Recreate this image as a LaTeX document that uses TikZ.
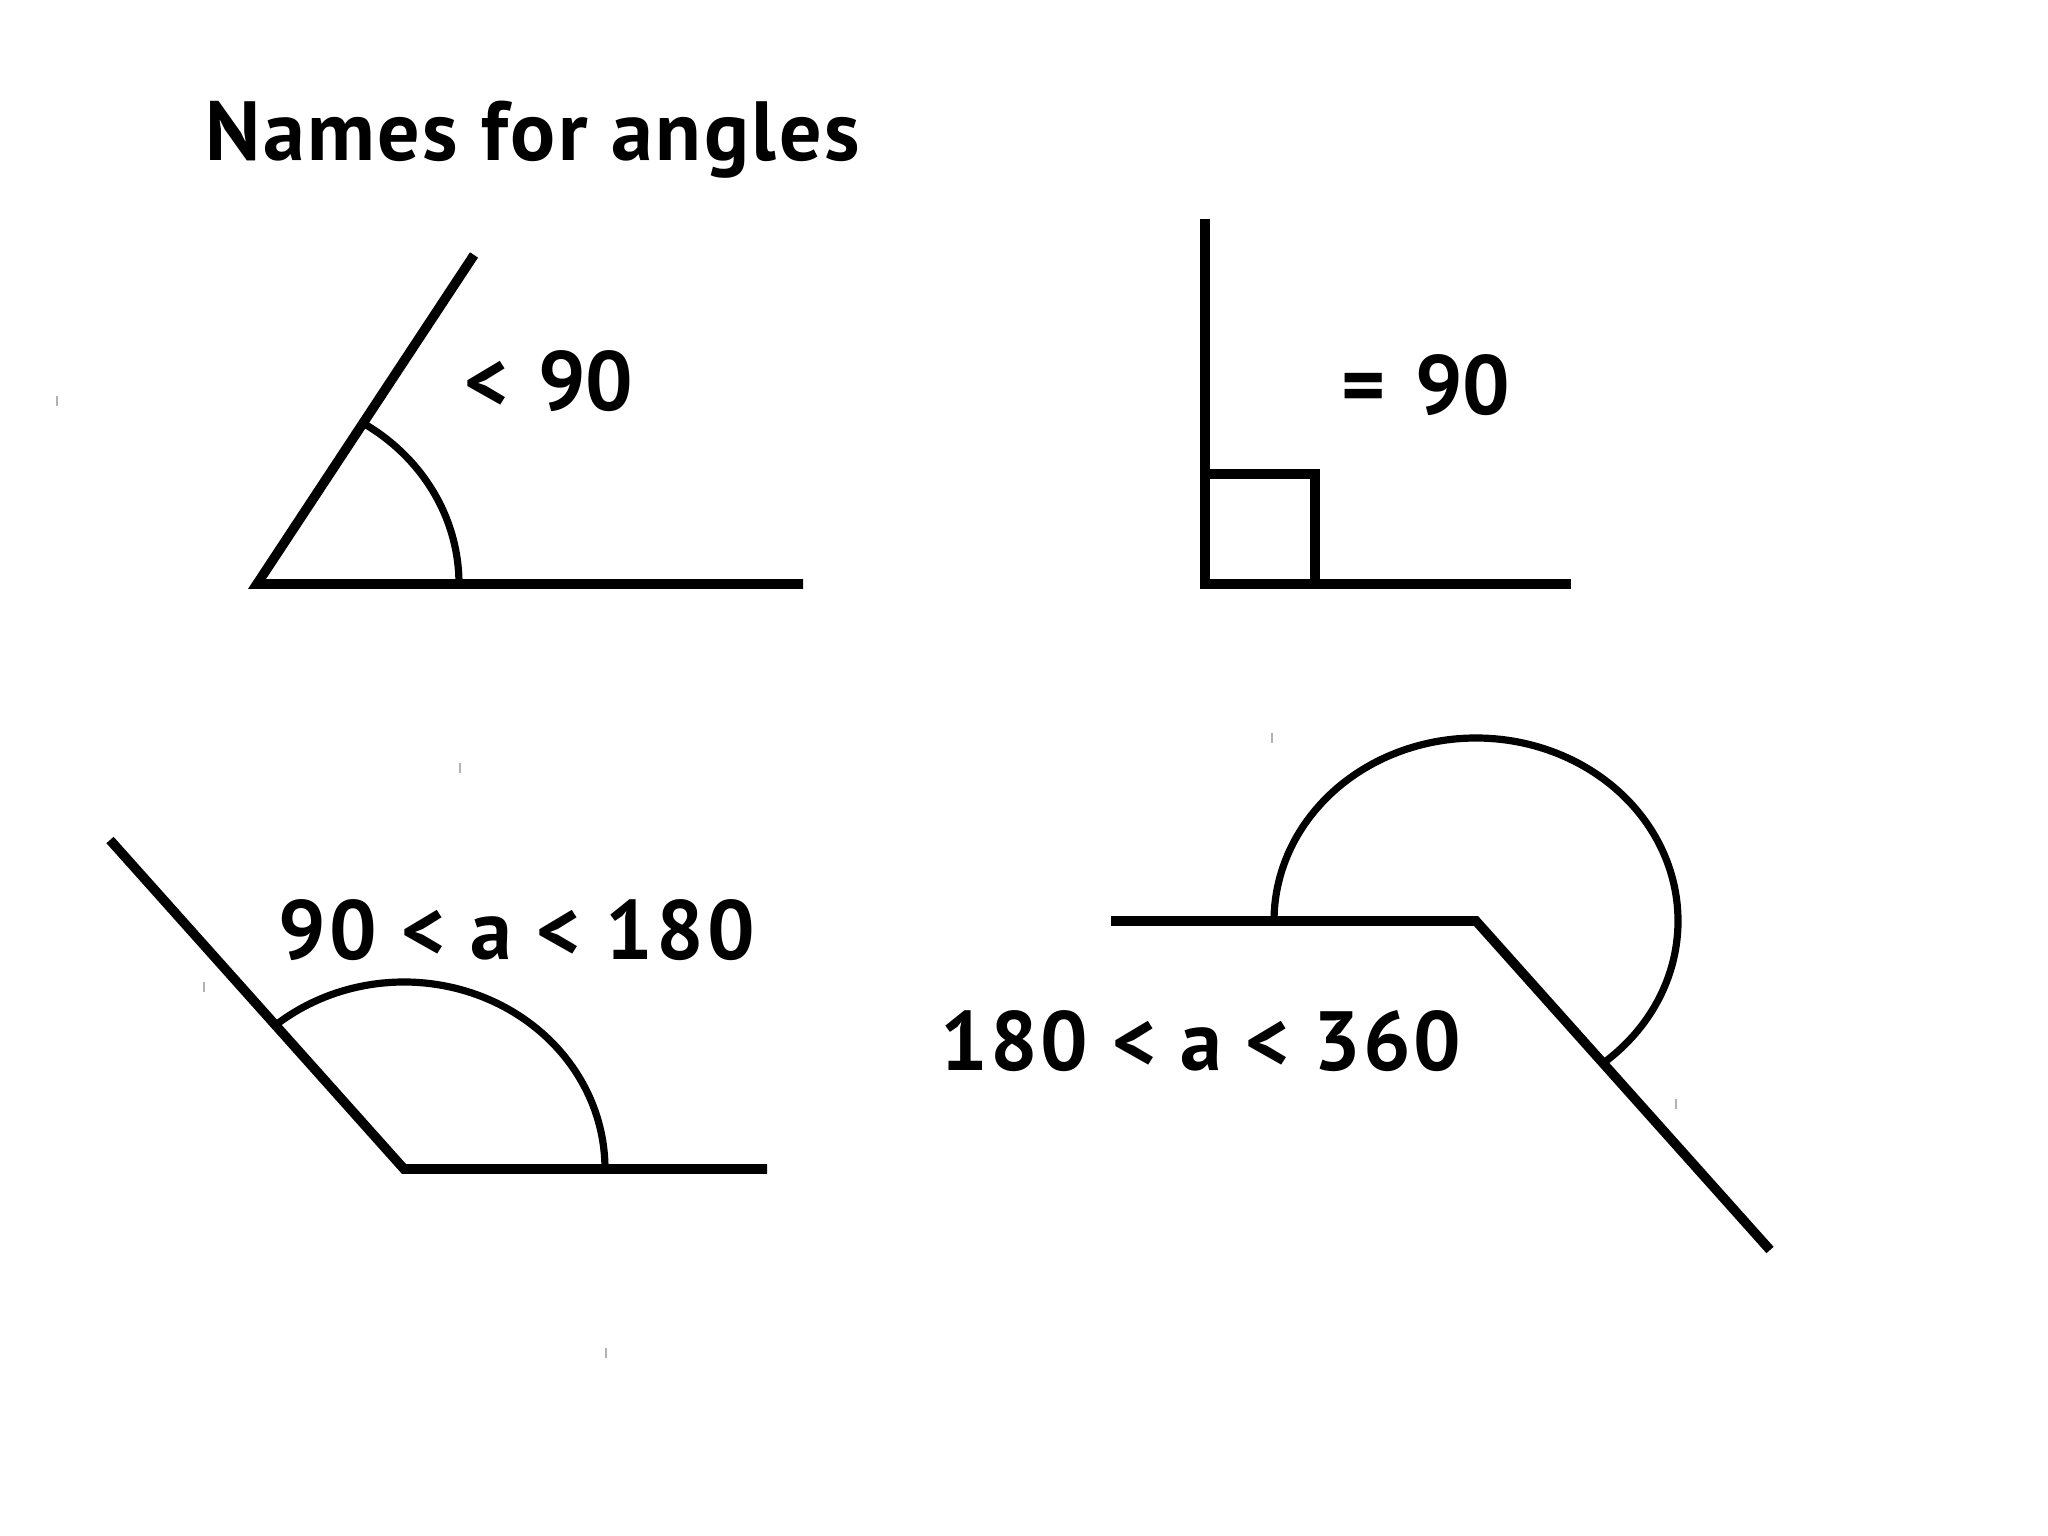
\documentclass[tikz,border=0pt]{standalone}
\usepackage{fontspec}
\setmainfont{PT Sans}
\begin{document}
\begin{tikzpicture}[x=0.5pt,y=0.5pt,
  ray/.style={line width=4.8pt},
  anglearc/.style={line width=3.6pt},
  lbl/.style={inner sep=0pt,anchor=base west,font=\fontsize{42}{50}\selectfont\bfseries},
  tick/.style={line width=0.6pt,draw=gray!60}]
\useasboundingbox[fill=white] (0,0) rectangle (2048,1535);
% title
\node[lbl] (title) at (205,1374) {\addfontfeature{LetterSpace=3}Names for angles};
% acute
\coordinate (v1) at (257,951);
\coordinate (b1) at (803,951);
\coordinate (r1) at (474,1280);
\draw[ray] (r1) -- (v1) -- (b1);
\draw[anglearc] plot[domain=0:58.3,samples=40,smooth] ({257+202*cos(\x)},{951+189*sin(\x)});
\node[lbl] (l1) at (464,1124) {<\hspace{0.35em}90};
% right
\coordinate (v2) at (1205,951);
\coordinate (t2) at (1205,1316);
\coordinate (b2) at (1571,951);
\draw[ray] (t2) -- (v2) -- (b2);
\draw[ray] (1205,1061) -- (1315,1061) -- (1315,951);
\node[lbl] (l2) at (1341,1120) {=\hspace{0.35em}90};
% obtuse
\coordinate (v3) at (404,366);
\coordinate (b3) at (767,366);
\coordinate (r3) at (110,695);
\draw[ray] (r3) -- (v3) -- (b3);
\draw[anglearc] plot[domain=0:129.8,samples=60,smooth] ({404+201*cos(\x)},{366+187*sin(\x)});
\node[lbl] (l3) at (278,575) {\addfontfeature{LetterSpace=4}90 < a < 180};
% reflex
\coordinate (v4) at (1476,614);
\coordinate (b4) at (1111,614);
\coordinate (r4) at (1770,285);
\draw[ray] (b4) -- (v4) -- (r4);
\draw[anglearc] plot[domain=180:-51,samples=100,smooth] ({1476+202*cos(\x)},{614+183*sin(\x)});
\node[lbl] (l4) at (940,464) {\addfontfeature{LetterSpace=3}180 < a < 360};
% tiny marks
\foreach \px/\py in {57/1134,460/767,1272/797,204/548,606/182,1676/431}
  \draw[tick] (\px,\py-5) -- (\px,\py+5);
\end{tikzpicture}
\end{document}
